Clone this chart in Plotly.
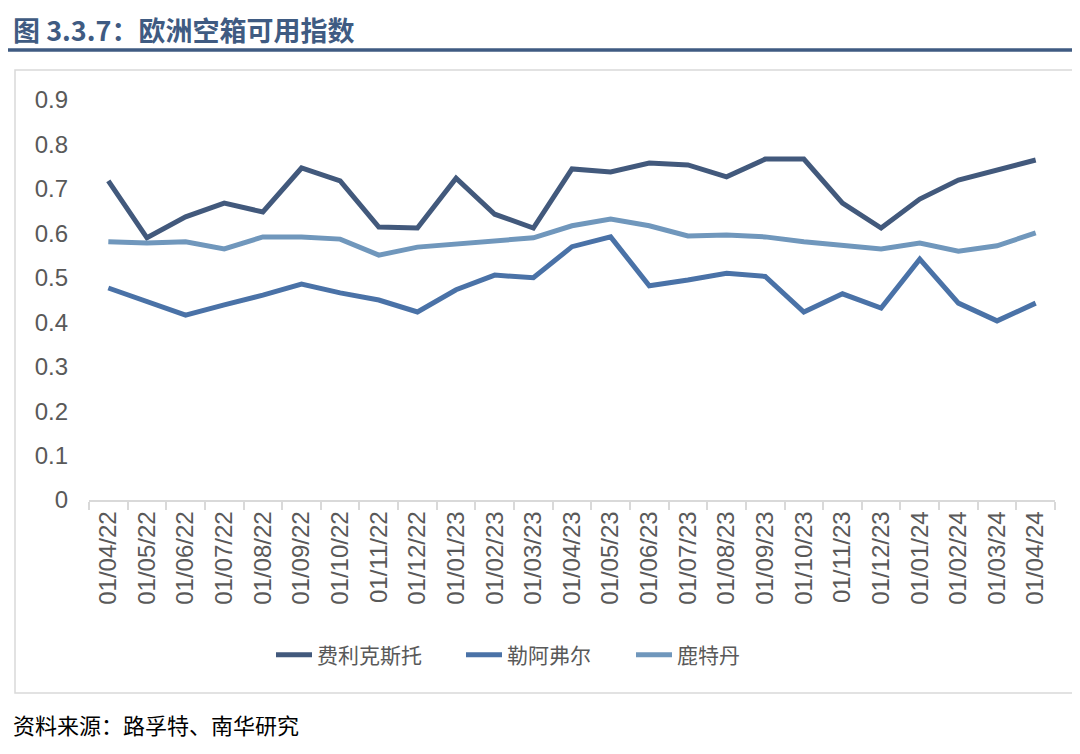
import plotly.graph_objects as go

categories = ["01/04/22","01/05/22","01/06/22","01/07/22","01/08/22","01/09/22","01/10/22",
              "01/11/22","01/12/22","01/01/23","01/02/23","01/03/23","01/04/23","01/05/23",
              "01/06/23","01/07/23","01/08/23","01/09/23","01/10/23","01/11/23","01/12/23",
              "01/01/24","01/02/24","01/03/24","01/04/24"]

felixstowe = [0.718,0.590,0.637,0.668,0.648,0.747,0.718,0.614,0.612,0.724,0.643,0.612,0.745,
              0.738,0.758,0.754,0.727,0.767,0.767,0.668,0.612,0.677,0.720,0.742,0.765]
lehavre = [0.477,0.446,0.416,0.439,0.461,0.486,0.466,0.450,0.423,0.473,0.506,0.500,0.570,
           0.592,0.482,0.495,0.510,0.503,0.423,0.464,0.432,0.542,0.443,0.403,0.443]
rotterdam = [0.581,0.578,0.581,0.565,0.592,0.592,0.587,0.551,0.569,0.576,0.585,0.590,0.617,
             0.632,0.617,0.594,0.596,0.592,0.581,0.572,0.565,0.578,0.560,0.572,0.601]

series_names = ["费利克斯托", "勒阿弗尔", "鹿特丹"]
colors = ["#42597C", "#4A72A7", "#7097BC"]

FONT = "Liberation Sans, Arial, Noto Sans CJK SC, sans-serif"
CJK = "Noto Sans CJK SC, sans-serif"

OFF = 8  # page body margin
W, H = 1080 - OFF, 754 - OFF
L = 89 - OFF
R = W - (1055 - OFF)
T = 100 - OFF
B = H - (500 - OFF)
pw, ph = W - L - R, H - T - B

def px(x):
    return (x - OFF - L) / pw

def py(y):
    return (H - B - (y - OFF)) / ph

legend_ids = ["legend", "legend2", "legend3"]
legend_left = [271, 461, 631]

fig = go.Figure()
for name, vals, c, lg in zip(series_names, [felixstowe, lehavre, rotterdam], colors, legend_ids):
    fig.add_trace(go.Scatter(x=categories, y=vals, name=name, mode="lines",
                             line=dict(color=c, width=5), legend=lg))

legend_style = {}
for lg, lx in zip(legend_ids, legend_left):
    legend_style[lg] = dict(orientation="h", x=px(lx), xanchor="left", y=py(655),
                            yanchor="middle", bgcolor="rgba(0,0,0,0)",
                            font=dict(family=CJK, size=21, color="#595959"),
                            itemwidth=36)

fig.update_layout(
    width=W, height=H,
    margin=dict(l=L, r=R, t=T, b=B),
    paper_bgcolor="white", plot_bgcolor="white",
    font=dict(family=FONT, color="#595959"),
    showlegend=True,
    **legend_style,
    xaxis=dict(type="category", range=[-0.5, len(categories) - 0.5],
               showgrid=False, showline=True, linecolor="#D9D9D9",
               linewidth=1.5, ticks="outside", tickson="boundaries", ticklen=8,
               tickcolor="#D9D9D9", tickwidth=1.5, tickangle=-90,
               tickfont=dict(family=FONT, size=24, color="#595959")),
    yaxis=dict(range=[0, 0.9], showgrid=False, zeroline=False,
               showline=False, ticks="", ticklabelstandoff=20,
               tickvals=[0,0.1,0.2,0.3,0.4,0.5,0.6,0.7,0.8,0.9],
               ticktext=["0","0.1","0.2","0.3","0.4","0.5","0.6","0.7","0.8","0.9"],
               tickfont=dict(family=FONT, size=24, color="#595959")),
    shapes=[
        dict(type="rect", xref="paper", yref="paper",
             x0=px(15), x1=px(1077), y0=py(693), y1=py(70),
             line=dict(color="#D9D9D9", width=1.5), layer="below"),
        dict(type="line", xref="paper", yref="paper",
             x0=px(8), x1=px(1080), y0=py(50), y1=py(50),
             line=dict(color="#3F5B82", width=3.5)),
    ],
    annotations=[
        dict(text="<b>图 3.3.7：欧洲空箱可用指数</b>", xref="paper", yref="paper",
             x=px(11), y=py(30), xanchor="left", yanchor="middle", showarrow=False,
             font=dict(family=CJK, size=27, color="#3F5B82")),
        dict(text="资料来源：路孚特、南华研究", xref="paper", yref="paper",
             x=px(11), y=py(724), xanchor="left", yanchor="middle", showarrow=False,
             font=dict(family=CJK, size=22, color="#000000")),
    ],
)

fig.write_html("out.html")
